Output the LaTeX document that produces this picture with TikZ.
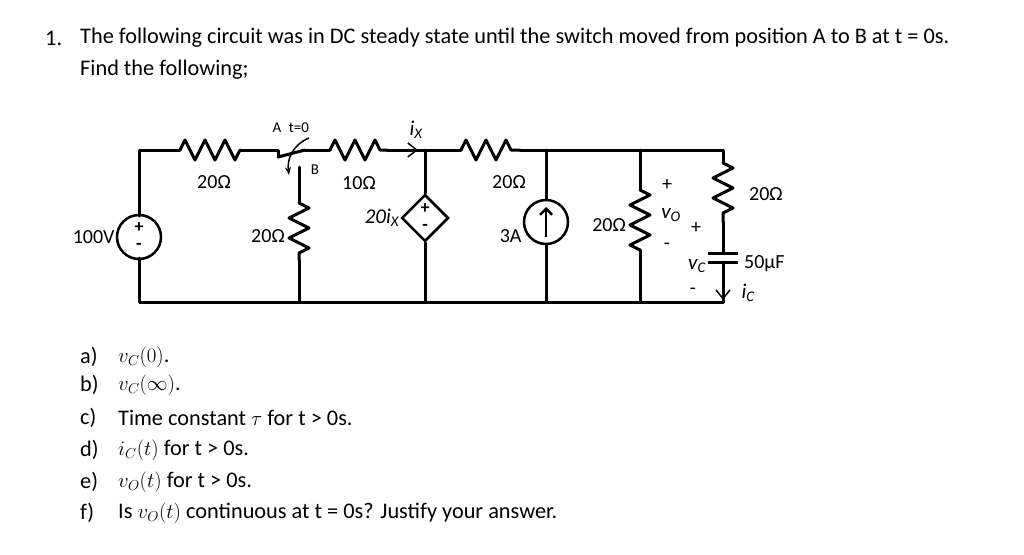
\documentclass[tikz,border=0pt]{standalone}
\usepackage{fontspec}
\setmainfont{Carlito}
\usetikzlibrary{positioning, arrows.meta, shapes.geometric, decorations.pathmorphing}
\tikzset{
    wire/.style={line width=3pt, line cap=round, line join=round},
    res/.style={wire, decorate, decoration={zigzag, segment length=20pt, amplitude=10pt}},
    lbl/.style={font=\fontsize{20}{24}\selectfont, inner sep=1pt},
    ilbl/.style={font=\fontsize{21}{24}\selectfont\itshape, inner sep=1pt},
    pm/.style={font=\fontsize{18}{20}\selectfont\bfseries, inner sep=0pt},
    txt/.style={font=\fontsize{22.3}{26}\selectfont, anchor=west, inner sep=0pt},
}
\begin{document}
\begin{tikzpicture}[x=1pt, y=-1pt]
    \useasboundingbox (0,0) rectangle (1024,554);
    % Enonce
    \node[txt] (num) at (45,38) {1.};
    \node[txt] (l1) at (80,38) {The following circuit was in DC steady state until the switch moved from position A to B at t = 0s.};
    \node[txt] (l2) at (80,70) {Find the following;};

    % Fils du haut et du bas
    \draw[wire] (139,216) -- (139,150) -- (180,150);
    \draw[wire] (240,150) -- (278,150) -- (278,157);
    \draw[wire] (305,150) -- (330,150);
    \draw[wire] (387,150) -- (461,150);
    \draw[wire] (520,150) -- (723,150) -- (723,163);
    \draw[wire] (139,258) -- (139,302) -- (723,302) -- (723,262);

    % Resistances
    \draw[res] (180,150) -- (240,150);
    \draw[res] (330,150) -- (387,150);
    \draw[res] (461,150) -- (520,150);
    \draw[res] (299,203) -- (299,260);
    \draw[res] (640,190) -- (640,250);
    \draw[res] (723,163) -- (723,222);
    \node[lbl] (r1) at (214,182) {20Ω};
    \node[lbl] (r2) at (359,183) {10Ω};
    \node[lbl] (r3) at (509,182) {20Ω};
    \node[lbl, anchor=east] (r4) at (286,236) {20Ω};
    \node[lbl, anchor=east] (r5) at (627,225) {20Ω};
    \node[lbl, anchor=west] (r6) at (748,194) {20Ω};

    % Source 100V
    \node[draw, circle, line width=2.5pt, minimum size=44pt, inner sep=0pt] (vs) at (139,237) {};
    \node[pm] at ([yshift=9pt]vs.center) {+};
    \node[pm] at ([yshift=-9pt]vs.center) {-};
    \node[lbl, anchor=east] (vsl) at (vs.west) {100V};

    % Interrupteur
    \draw[wire] (278,157) -- (305,150);
    \draw[wire] (299,167) -- (299,203);
    \draw[wire] (299,260) -- (299,302);
    \draw[line width=1.5pt, -{Stealth[length=8pt]}] (309,138) .. controls (292,145) and (287,160) .. (289,175);
    \node[font=\fontsize{15}{17}\selectfont] (swa) at (277,128) {A};
    \node[font=\fontsize{15}{17}\selectfont] (swt) at (299,128) {t=0};
    \node[font=\fontsize{15}{17}\selectfont] (swb) at (315,170) {B};

    % Courant ix
    \coordinate (ix1) at (388,150);
    \coordinate (ix2) at (418,150);
    \draw[line width=1.5pt, -{Straight Barb[length=9pt, width=14pt]}] (ix1) -- (ix2);
    \node[ilbl] (ixl) at (416,130) {i\textsubscript{X}};

    % Source dependante
    \node[draw, diamond, line width=2.5pt, minimum size=47pt, inner sep=0pt] (vd) at (425,218) {};
    \node[pm] at ([yshift=9pt]vd.center) {+};
    \node[pm] at ([yshift=-9pt]vd.center) {-};
    \draw[wire] (425,150) -- (vd.north);
    \draw[wire] (vd.south) -- (425,302);
    \node[ilbl, anchor=east] (vdl) at (vd.west) {20i\textsubscript{X}};

    % Source de courant 3A
    \node[draw, circle, line width=2.5pt, minimum size=44pt, inner sep=0pt] (is) at (546,222) {};
    \draw[line width=2.5pt, -{Straight Barb[length=6pt]}] ([yshift=-15pt]is.center) -- ([yshift=15pt]is.center);
    \draw[wire] (546,150) -- (is.north);
    \draw[wire] (is.south) -- (546,302);
    \node[lbl, anchor=east] (isl) at ([yshift=-14pt]is.west) {3A};

    % Branche vo
    \draw[wire] (640,150) -- (640,190);
    \draw[wire] (640,250) -- (640,302);
    \node[lbl] (vop) at (667,185) {+};
    \node[ilbl] (vol) at (671,215) {v\textsubscript{O}};
    \node[lbl] (vom) at (667,246) {-};

    % Condensateur
    \draw[wire] (723,222) -- (723,253);
    \draw[line width=3pt] (708,253) -- (738,253);
    \draw[line width=3pt] (708,262) -- (738,262);
    \node[lbl, anchor=west] (cl) at (743,264) {50µF};
    \node[lbl] (vcp) at (696,228) {+};
    \node[ilbl] (vcl) at (697,266) {v\textsubscript{C}};
    \node[lbl] (vcm) at (693,291) {-};
    \coordinate (ic1) at (723,275);
    \coordinate (ic2) at (723,300);
    \draw[line width=1.5pt, -{Straight Barb[length=9pt, width=14pt]}] (ic1) -- (ic2);
    \node[ilbl] (icl) at (748,293) {i\textsubscript{C}};

    % Questions
    \node[txt] (qa) at (80,357) {a)};
    \node[txt] (ta) at (118,357) {$v_C(0)$.};
    \node[txt] (qb) at (80,385) {b)};
    \node[txt] (tb) at (118,385) {$v_C(\infty)$.};
    \node[txt] (qc) at (80,418) {c)};
    \node[txt] (tc) at (118,418) {Time constant $\tau$ for t > 0s.};
    \node[txt] (qd) at (80,450) {d)};
    \node[txt] (td) at (118,450) {$i_C(t)$ for t > 0s.};
    \node[txt] (qe) at (80,482) {e)};
    \node[txt] (te) at (118,482) {$v_O(t)$ for t > 0s.};
    \node[txt] (qf) at (80,513) {f)};
    \node[txt] (tf) at (118,513) {Is $v_O(t)$ continuous at t = 0s? Justify your answer.};
\end{tikzpicture}
\end{document}
